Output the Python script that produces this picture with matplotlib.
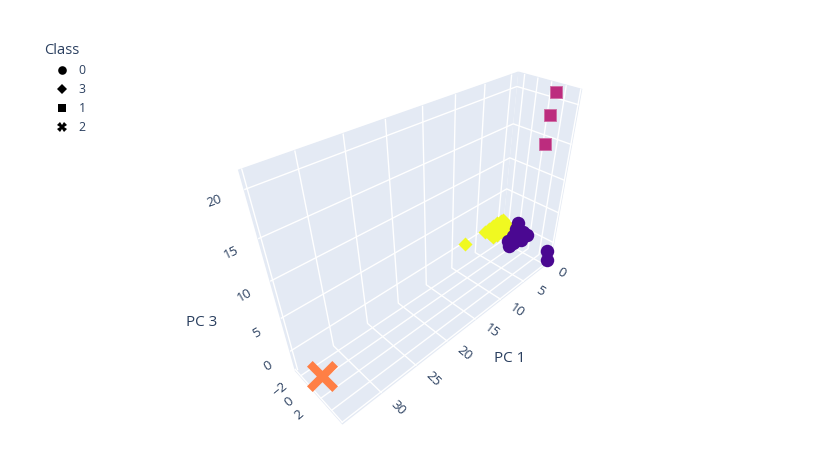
import numpy as np
import matplotlib
matplotlib.use("Agg")
import matplotlib.pyplot as plt
from matplotlib.lines import Line2D

W, H = 834, 455
plt.rcParams["font.family"] = ["Open Sans", "DejaVu Sans"]
TXT = "#2a3f5f"
PANE = "#E4EAF4"

x_ticks = [0, 5, 10, 15, 20, 25, 30]
y_ticks = [-2, 0, 2, 4]
z_ticks = [0, 5, 10, 15, 20]
classes = ["0", "3", "1", "2"]

# class 3
yellow_x = [11.92, 8.04, 7.22, 6.40, 5.57, 4.74, 4.31, 3.60, 3.74, 4.56, 5.38, 6.22, 6.92, 6.10, 5.27]
yellow_y = [1.0] * 15
yellow_z = [4.14, 4.06, 4.15, 4.23, 4.31, 4.22, 4.17, 3.14, 2.37, 2.28, 2.20, 2.29, 3.15, 3.24, 3.32]
# class 0
purple_x = [-0.3, -0.3, 1.5, 1.5, 1.5, 1.5, 1.5, 1.5, 1.5, 1.5, 1.5, 1.5, 1.5, 1.5]
purple_y = [5.78, 6.02, 1.56, 1.35, 2.57, 3.28, 2.41, 1.42, 0.21, 0.48, 1.12, 1.7, 1.0, 2.2]
purple_z = [-1.04, -2.54, 2.57, 1.44, 1.54, 1.39, 0.06, -0.64, -1.29, -2.06, -1.16, 0.95, 0.1, 0.7]
# class 1
pink_x = [-0.5, -0.5, -0.5]
pink_y = [3.22, 2.93, 2.82]
pink_z = [21.01, 18.13, 14.29]
# class 2
cross_x = [33.5]
cross_y = [0.14]
cross_z = [-2.68]

fig = plt.figure(figsize=(W / 100, H / 100), dpi=100)
cx, cy, w = 434.79, 233.90, 389.60
ax = fig.add_axes([(cx - w / 2) / W, (H - cy - w / 2) / H, w / W, w / H], projection="3d", computed_zorder=False)
ax.view_init(elev=35.54, azim=45.13, roll=-0.115)
ax.set_proj_type("persp", focal_length=0.2198)
ax.set_box_aspect((1.445, 0.356, 1))
xl, xh, yl, yh, zl, zh = -1.344, 35.018, -2.989, 6.032, -3.272, 21.792
ax.set_xlim(xl, xh)
ax.set_ylim(yl, yh)
ax.set_zlim(zl, zh)
ax.set_xticks(x_ticks)
ax.set_yticks(y_ticks)
ax.set_zticks(z_ticks)
ax.set_xticklabels([])
ax.set_yticklabels([])
ax.set_zticklabels([])
for a in (ax.xaxis, ax.yaxis, ax.zaxis):
    a.set_pane_color(PANE)
    a.pane.set_edgecolor(PANE)
    a.line.set_color((1, 1, 1, 0))
    a._axinfo["grid"].update(color="white", linewidth=1.0)
    a._axinfo["tick"].update(inward_factor=0, outward_factor=0)

ax.scatter(yellow_x, yellow_y, yellow_z, marker="D", s=51, c="#F0F921", linewidths=0, zorder=3, depthshade=False)
ax.scatter(purple_x, purple_y, purple_z, marker="o", s=94, c="#4A0891", linewidths=0, zorder=4, depthshade=False)
ax.scatter(pink_x, pink_y, pink_z, marker="s", s=63, c="#BC2C7E", edgecolors="#CF6BA3", linewidths=0.6, zorder=4, depthshade=False)
ax.scatter(cross_x, cross_y, cross_z, marker="x", s=333, c="#FF7F45", linewidths=5.76, zorder=5, depthshade=False)

# white axis lines sit just inside the box edges
ax.plot([xh - 0.25, xh - 0.25], [yl, yl], [zl, zh], color="white", lw=1.0, zorder=2)
ax.plot([xh, xh], [yl, yh], [zl + 0.25, zl + 0.25], color="white", lw=1.0, zorder=2)
ax.plot([xl, xh], [yh, yh], [zl + 0.25, zl + 0.25], color="white", lw=1.0, zorder=2)
ax.plot([xl, xl], [yh - 0.1, yh - 0.1], [zl, zh], color="white", lw=1.0, zorder=2)


def label(x, y, s, size=9.5, rot=0):
    fig.text(x / W, 1 - y / H, s, fontsize=size, color=TXT, rotation=rot, ha="center", va="center", rotation_mode="anchor")


x_pos = [(561, 273, -30), (540, 291, -33), (517, 310, -35), (492, 331, -37), (464, 353, -40), (433, 379, -45), (398, 408, -45)]
for t, (a, b, r) in zip(x_ticks, x_pos):
    label(a, b, str(t), rot=r)
y_pos = [(280, 389), (289, 402), (299, 415)]
for t, (a, b) in zip(y_ticks[:3], y_pos):
    label(a, b, str(t).replace("-", "\u2212"), rot=40)
z_pos = [(268, 366, 30), (257, 333, 30), (245, 295, 30), (231, 253, 25), (214, 201, 20)]
for t, (a, b, r) in zip(z_ticks, z_pos):
    label(a, b, str(t), rot=r)
label(510, 358, "PC 1", size=11)
label(202, 323, "PC 3", size=11)

shapes = ["o", "D", "s", "X"]
sizes = [6.2, 5.2, 5.8, 6.8]
handles = [Line2D([], [], ls="", marker=m, ms=z, color="black", mew=0, label=c) for m, c, z in zip(shapes, classes, sizes)]
leg = fig.legend(handles=handles, title="Class", loc="upper left", bbox_to_anchor=(44 / W, 1 - 43 / H), frameon=False,
                 fontsize=8.8, title_fontsize=10.6, labelcolor=TXT, labelspacing=0.5, handlelength=2.95,
                 handletextpad=-0.1, borderpad=0, borderaxespad=0)
leg.get_title().set_color(TXT)
leg._legend_box.align = "left"

fig.savefig("out.png", dpi=100)
